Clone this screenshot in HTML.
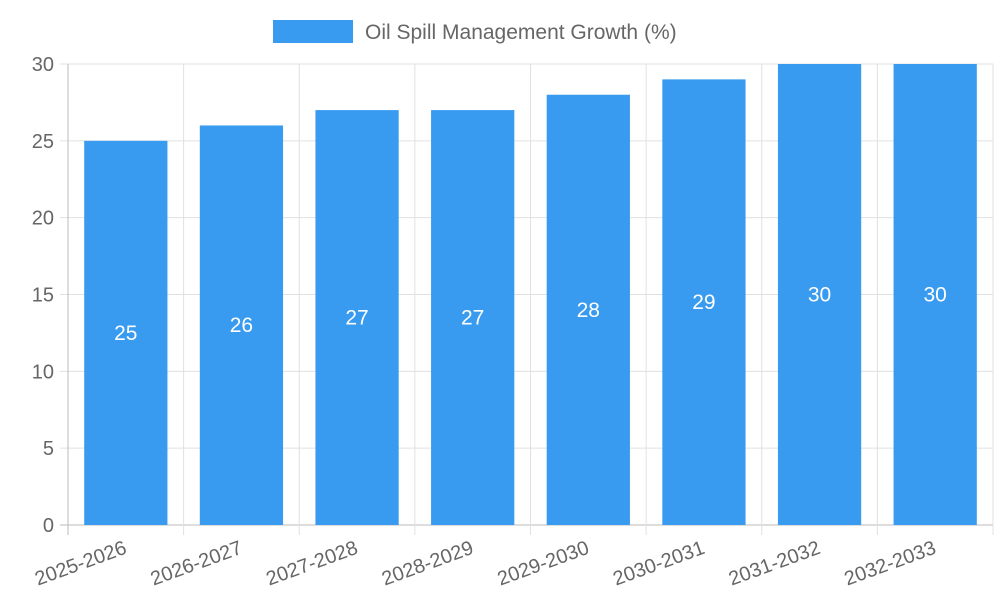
<!DOCTYPE html>
<html><head><meta charset="utf-8"><style>
body{margin:0;background:#fff;font-family:"Liberation Sans",sans-serif;}
svg text{font-family:"Liberation Sans",sans-serif;}
</style></head><body>
<svg id="chart" width="1000" height="600" viewBox="0 0 1000 600">
<g>
<rect x="273" y="20" width="80" height="23" fill="#389bef"/>
<text x="365" y="39" font-size="21" fill="#666">Oil Spill Management Growth (%)</text>
</g>
<g id="grid"></g><g id="bars"></g><g id="axes"></g>
</svg>
<script>
const categories=["2025-2026","2026-2027","2027-2028","2028-2029","2029-2030","2030-2031","2031-2032","2032-2033"];
const values=[25,26,27,27,28,29,30,30];
const yTicks=[0,5,10,15,20,25,30];
const NS="http://www.w3.org/2000/svg";
const L=68,R=993,T=64,B=525,yMax=30;
const bw=(R-L)/categories.length;
const y=v=>B-v*(B-T)/yMax;
const x=i=>L+i*bw;
function mk(tag,attrs,parent){const e=document.createElementNS(NS,tag);for(const k in attrs)e.setAttribute(k,attrs[k]);parent.appendChild(e);return e;}
const grid=document.getElementById('grid'),bars=document.getElementById('bars'),axes=document.getElementById('axes');
yTicks.forEach(t=>{
 const l=mk('line',{x1:L-8,x2:R,y1:y(t),y2:y(t),stroke:t===0?'#bbb':'#e0e0e0','stroke-width':1},grid);
 
 
 const tx=mk('text',{x:L-14,y:y(t)+7,'text-anchor':'end','font-size':20,fill:'#666'},axes);
 tx.textContent=t;
 
 
});
for(let i=0;i<=categories.length;i++){
 const l=mk('line',{x1:x(i),x2:x(i),y1:T,y2:B+10,stroke:i===0?'#bbb':'#e0e0e0','stroke-width':1},grid);
 
 
}
categories.forEach((c,i)=>{
 const cx=x(i)+bw/2,w=bw*0.72;
 const r=mk('rect',{x:cx-w/2,y:y(values[i]),width:w,height:B-y(values[i]),fill:'#389bef'},bars);
 
 
 const vt=mk('text',{x:cx,y:(y(values[i])+B)/2+7,'text-anchor':'middle','font-size':21,fill:'#fff'},bars);
 vt.textContent=values[i];
 
 
 const lt=mk('text',{x:cx+2,y:B+28,'text-anchor':'end','font-size':20,fill:'#666',transform:`rotate(-20 ${cx+2} ${B+28})`},axes);
 lt.textContent=c;
 
 
});
</script>
</body></html>
